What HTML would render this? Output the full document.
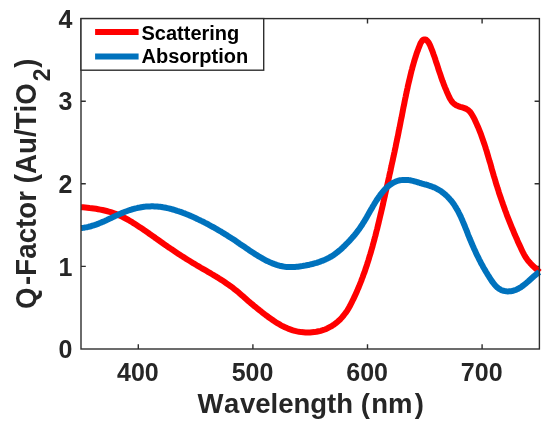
<!DOCTYPE html>
<html><head><meta charset="utf-8"><title>Q-Factor vs Wavelength</title>
<style>
html,body{margin:0;padding:0;background:#fff;}
svg{display:block;font-family:"Liberation Sans",sans-serif;font-weight:bold;font-kerning:none;}
</style></head><body>
<svg width="550" height="427" viewBox="0 0 550 427">
<rect width="550" height="427" fill="#fff"/>
<g stroke="#2e2e2e" stroke-width="1.4" fill="none">
<path d="M138.3,349 v-4.8 M138.3,18.6 v4.8"/><path d="M252.9,349 v-4.8 M252.9,18.6 v4.8"/><path d="M367.5,349 v-4.8 M367.5,18.6 v4.8"/><path d="M482.1,349 v-4.8 M482.1,18.6 v4.8"/><path d="M81,266.4 h4.8 M539.4,266.4 h-4.8"/><path d="M81,183.8 h4.8 M539.4,183.8 h-4.8"/><path d="M81,101.2 h4.8 M539.4,101.2 h-4.8"/>
</g>
<g fill="none" stroke-width="6" stroke-linejoin="round" stroke-linecap="butt">
<path stroke="#ff0000" d="M81.0,207.2 L83.1,207.3 L85.3,207.5 L87.4,207.7 L89.6,208.0 L91.7,208.2 L93.8,208.5 L96.0,208.8 L98.1,209.2 L100.3,209.6 L102.4,210.0 L104.5,210.5 L106.6,211.0 L108.7,211.6 L110.8,212.2 L112.8,212.9 L114.9,213.6 L116.9,214.4 L118.9,215.2 L120.8,216.1 L122.8,217.0 L124.7,218.0 L126.6,219.0 L128.5,220.0 L130.3,221.1 L132.2,222.2 L134.0,223.4 L135.8,224.5 L137.6,225.7 L139.4,226.9 L141.2,228.1 L143.0,229.3 L144.8,230.6 L146.6,231.8 L148.4,233.0 L150.1,234.3 L151.9,235.5 L153.7,236.7 L155.4,238.0 L157.2,239.2 L159.0,240.5 L160.7,241.7 L162.5,243.0 L164.2,244.2 L166.0,245.4 L167.8,246.7 L169.6,247.9 L171.3,249.1 L173.1,250.3 L174.9,251.5 L176.7,252.7 L178.5,253.9 L180.3,255.1 L182.1,256.2 L184.0,257.4 L185.8,258.6 L187.6,259.7 L189.4,260.8 L191.3,262.0 L193.1,263.1 L195.0,264.2 L196.8,265.3 L198.7,266.4 L200.5,267.5 L202.4,268.6 L204.3,269.7 L206.1,270.7 L208.0,271.8 L209.9,272.9 L211.7,274.0 L213.6,275.1 L215.4,276.2 L217.3,277.3 L219.1,278.5 L220.9,279.6 L222.8,280.8 L224.6,282.0 L226.3,283.2 L228.1,284.4 L229.9,285.7 L231.6,286.9 L233.3,288.2 L235.0,289.6 L236.7,290.9 L238.4,292.3 L240.0,293.7 L241.7,295.2 L243.3,296.6 L244.9,298.0 L246.6,299.5 L248.2,300.9 L249.8,302.3 L251.4,303.7 L253.1,305.0 L254.7,306.4 L256.4,307.7 L258.1,309.1 L259.7,310.4 L261.4,311.7 L263.1,313.1 L264.8,314.4 L266.6,315.7 L268.3,317.0 L270.1,318.3 L271.9,319.5 L273.7,320.8 L275.5,322.0 L277.3,323.1 L279.2,324.2 L281.1,325.3 L283.0,326.3 L284.9,327.2 L286.9,328.1 L288.8,328.9 L290.8,329.6 L292.9,330.3 L294.9,330.9 L297.0,331.4 L299.1,331.8 L301.3,332.1 L303.4,332.3 L305.6,332.5 L307.8,332.5 L310.0,332.5 L312.1,332.3 L314.3,332.1 L316.4,331.8 L318.6,331.3 L320.7,330.8 L322.7,330.2 L324.8,329.5 L326.8,328.7 L328.7,327.7 L330.6,326.7 L332.4,325.6 L334.2,324.4 L335.9,323.1 L337.6,321.7 L339.2,320.3 L340.7,318.8 L342.2,317.2 L343.6,315.5 L344.9,313.8 L346.2,312.1 L347.4,310.3 L348.5,308.4 L349.6,306.5 L350.6,304.6 L351.6,302.7 L352.5,300.8 L353.5,298.8 L354.4,296.9 L355.3,294.9 L356.2,292.9 L357.1,291.0 L357.9,289.0 L358.8,287.0 L359.6,285.0 L360.4,283.0 L361.2,281.0 L361.9,279.0 L362.7,277.0 L363.4,274.9 L364.2,272.9 L364.9,270.9 L365.6,268.8 L366.3,266.8 L367.0,264.7 L367.6,262.7 L368.3,260.6 L368.9,258.6 L369.5,256.5 L370.2,254.4 L370.8,252.4 L371.4,250.3 L372.0,248.2 L372.6,246.1 L373.1,244.1 L373.7,242.0 L374.3,239.9 L374.8,237.8 L375.4,235.7 L375.9,233.6 L376.4,231.5 L377.0,229.5 L377.5,227.4 L378.0,225.3 L378.5,223.2 L379.0,221.1 L379.5,219.0 L380.0,216.9 L380.5,214.8 L381.0,212.7 L381.5,210.6 L382.0,208.5 L382.5,206.4 L383.0,204.3 L383.4,202.2 L383.9,200.0 L384.4,197.9 L384.9,195.8 L385.3,193.7 L385.8,191.6 L386.3,189.5 L386.7,187.4 L387.2,185.3 L387.7,183.2 L388.1,181.1 L388.6,179.0 L389.1,176.9 L389.5,174.8 L390.0,172.7 L390.5,170.6 L390.9,168.4 L391.4,166.3 L391.8,164.2 L392.3,162.1 L392.8,160.0 L393.2,157.9 L393.7,155.8 L394.1,153.7 L394.6,151.6 L395.0,149.5 L395.5,147.4 L395.9,145.2 L396.3,143.1 L396.8,141.0 L397.2,138.9 L397.7,136.8 L398.1,134.7 L398.5,132.6 L398.9,130.4 L399.4,128.3 L399.8,126.2 L400.2,124.1 L400.6,122.0 L401.0,119.9 L401.5,117.7 L401.9,115.6 L402.3,113.5 L402.7,111.4 L403.1,109.3 L403.5,107.1 L404.0,105.0 L404.4,102.9 L404.8,100.8 L405.2,98.7 L405.7,96.6 L406.1,94.4 L406.6,92.3 L407.0,90.2 L407.5,88.1 L407.9,86.0 L408.4,83.9 L408.9,81.8 L409.4,79.7 L409.9,77.6 L410.4,75.5 L410.9,73.4 L411.4,71.3 L412.0,69.2 L412.5,67.1 L413.1,65.1 L413.7,63.0 L414.3,60.9 L414.9,58.9 L415.6,56.8 L416.2,54.8 L416.9,52.7 L417.7,50.7 L418.4,48.6 L419.2,46.6 L420.0,44.6 L420.9,42.6 L422.2,40.7 L423.8,39.4 L425.6,39.4 L427.3,40.8 L428.7,42.6 L429.7,44.6 L430.6,46.6 L431.4,48.6 L432.2,50.6 L432.9,52.6 L433.6,54.6 L434.4,56.6 L435.1,58.7 L435.7,60.7 L436.4,62.8 L437.1,64.8 L437.8,66.9 L438.4,69.0 L439.1,71.1 L439.8,73.1 L440.5,75.1 L441.2,77.2 L441.9,79.2 L442.6,81.2 L443.4,83.2 L444.1,85.2 L444.9,87.2 L445.8,89.2 L446.6,91.2 L447.5,93.2 L448.4,95.2 L449.3,97.2 L450.4,99.2 L451.5,101.0 L452.8,102.6 L454.4,104.1 L456.1,105.2 L458.1,106.1 L460.2,106.8 L462.3,107.4 L464.4,108.1 L466.4,108.9 L468.1,110.0 L469.7,111.4 L471.0,113.1 L472.2,115.0 L473.3,116.9 L474.3,118.8 L475.2,120.8 L476.1,122.7 L477.0,124.7 L477.9,126.7 L478.7,128.7 L479.5,130.7 L480.3,132.7 L481.1,134.7 L481.8,136.7 L482.5,138.7 L483.2,140.7 L483.9,142.8 L484.6,144.8 L485.3,146.9 L485.9,148.9 L486.6,151.0 L487.2,153.1 L487.8,155.1 L488.4,157.2 L489.0,159.3 L489.6,161.3 L490.3,163.4 L490.9,165.5 L491.4,167.6 L492.0,169.7 L492.6,171.7 L493.2,173.8 L493.8,175.9 L494.5,178.0 L495.1,180.0 L495.7,182.1 L496.3,184.2 L497.0,186.2 L497.6,188.3 L498.3,190.3 L498.9,192.4 L499.6,194.4 L500.3,196.5 L501.0,198.5 L501.7,200.6 L502.4,202.6 L503.1,204.6 L503.9,206.7 L504.6,208.7 L505.3,210.7 L506.1,212.8 L506.8,214.8 L507.6,216.8 L508.4,218.8 L509.2,220.8 L510.0,222.8 L510.8,224.8 L511.6,226.8 L512.4,228.8 L513.3,230.8 L514.1,232.8 L514.9,234.8 L515.8,236.7 L516.7,238.7 L517.5,240.7 L518.4,242.7 L519.3,244.6 L520.2,246.6 L521.1,248.6 L522.0,250.5 L523.0,252.5 L524.0,254.4 L525.0,256.2 L526.2,258.1 L527.4,259.8 L528.8,261.5 L530.2,263.1 L531.7,264.7 L533.3,266.2 L534.9,267.7 L536.5,269.2 L538.0,270.7 L539.5,272.2"/>
<path stroke="#0072bd" d="M81.0,228.0 L82.5,227.9 L83.9,227.7 L85.4,227.4 L86.8,227.2 L88.3,226.9 L89.7,226.5 L91.1,226.2 L92.5,225.7 L93.8,225.3 L95.2,224.9 L96.6,224.4 L97.9,223.9 L99.3,223.3 L100.6,222.8 L101.9,222.2 L103.3,221.7 L104.6,221.1 L105.9,220.5 L107.2,219.9 L108.5,219.2 L109.9,218.6 L111.2,218.0 L112.5,217.4 L113.8,216.7 L115.1,216.1 L116.4,215.5 L117.8,214.9 L119.1,214.3 L120.4,213.7 L121.8,213.1 L123.1,212.6 L124.4,212.0 L125.8,211.5 L127.2,211.0 L128.5,210.5 L129.9,210.0 L131.3,209.6 L132.7,209.1 L134.1,208.8 L135.6,208.4 L137.0,208.1 L138.4,207.7 L139.9,207.5 L141.3,207.2 L142.7,207.0 L144.2,206.8 L145.6,206.6 L147.1,206.5 L148.5,206.4 L150.0,206.4 L151.5,206.3 L152.9,206.3 L154.4,206.4 L155.8,206.4 L157.3,206.5 L158.7,206.7 L160.1,206.8 L161.6,207.0 L163.0,207.3 L164.4,207.5 L165.9,207.8 L167.3,208.1 L168.7,208.4 L170.1,208.7 L171.5,209.1 L172.9,209.5 L174.3,209.9 L175.7,210.3 L177.1,210.8 L178.5,211.2 L179.8,211.7 L181.2,212.2 L182.6,212.7 L183.9,213.2 L185.3,213.7 L186.6,214.2 L188.0,214.8 L189.3,215.4 L190.7,215.9 L192.0,216.5 L193.3,217.1 L194.7,217.7 L196.0,218.3 L197.3,219.0 L198.6,219.6 L199.9,220.2 L201.3,220.9 L202.6,221.5 L203.9,222.2 L205.2,222.9 L206.5,223.5 L207.8,224.2 L209.0,224.9 L210.3,225.6 L211.6,226.3 L212.9,227.0 L214.2,227.7 L215.4,228.4 L216.7,229.1 L217.9,229.9 L219.2,230.6 L220.5,231.3 L221.7,232.1 L222.9,232.8 L224.2,233.6 L225.4,234.4 L226.7,235.1 L227.9,235.9 L229.1,236.7 L230.3,237.5 L231.5,238.2 L232.8,239.0 L234.0,239.8 L235.2,240.6 L236.4,241.4 L237.6,242.2 L238.7,243.1 L239.9,243.9 L241.1,244.7 L242.3,245.5 L243.5,246.3 L244.7,247.1 L245.9,247.9 L247.1,248.8 L248.3,249.6 L249.5,250.4 L250.7,251.2 L251.9,252.0 L253.1,252.8 L254.3,253.6 L255.6,254.4 L256.8,255.1 L258.0,255.9 L259.3,256.7 L260.6,257.4 L261.9,258.1 L263.2,258.9 L264.5,259.6 L265.8,260.3 L267.1,261.0 L268.5,261.6 L269.8,262.2 L271.2,262.8 L272.6,263.4 L273.9,263.9 L275.3,264.4 L276.7,264.9 L278.1,265.3 L279.5,265.7 L280.9,266.0 L282.3,266.3 L283.7,266.6 L285.1,266.8 L286.5,266.9 L287.9,267.0 L289.4,267.1 L290.8,267.1 L292.2,267.1 L293.6,267.0 L295.1,266.9 L296.5,266.8 L297.9,266.7 L299.4,266.5 L300.8,266.3 L302.2,266.1 L303.7,265.8 L305.1,265.6 L306.5,265.3 L308.0,265.0 L309.4,264.7 L310.9,264.3 L312.3,264.0 L313.7,263.6 L315.2,263.2 L316.6,262.8 L318.0,262.3 L319.4,261.9 L320.8,261.4 L322.1,260.8 L323.5,260.3 L324.9,259.7 L326.2,259.1 L327.5,258.5 L328.8,257.9 L330.0,257.2 L331.3,256.5 L332.5,255.7 L333.7,254.9 L334.9,254.1 L336.0,253.3 L337.1,252.4 L338.3,251.5 L339.3,250.6 L340.4,249.7 L341.5,248.7 L342.6,247.7 L343.6,246.7 L344.7,245.7 L345.7,244.7 L346.7,243.6 L347.8,242.6 L348.8,241.5 L349.8,240.4 L350.8,239.3 L351.8,238.2 L352.8,237.1 L353.7,236.0 L354.7,234.9 L355.6,233.7 L356.6,232.6 L357.4,231.4 L358.3,230.2 L359.2,229.1 L360.0,227.9 L360.8,226.7 L361.6,225.5 L362.4,224.3 L363.1,223.1 L363.9,221.9 L364.6,220.7 L365.4,219.4 L366.1,218.2 L366.8,217.0 L367.5,215.7 L368.2,214.5 L368.9,213.3 L369.6,212.0 L370.3,210.8 L371.0,209.5 L371.8,208.3 L372.5,207.0 L373.2,205.8 L374.0,204.5 L374.7,203.3 L375.5,202.0 L376.3,200.7 L377.1,199.5 L378.0,198.2 L378.8,197.0 L379.7,195.8 L380.6,194.5 L381.5,193.4 L382.5,192.2 L383.4,191.0 L384.4,189.9 L385.4,188.9 L386.5,187.8 L387.6,186.8 L388.7,185.9 L389.8,185.0 L390.9,184.2 L392.1,183.4 L393.3,182.7 L394.6,182.1 L395.9,181.5 L397.2,181.0 L398.5,180.6 L399.9,180.3 L401.3,180.1 L402.7,179.9 L404.2,179.9 L405.7,179.9 L407.2,180.0 L408.6,180.1 L410.1,180.3 L411.5,180.6 L413.0,180.9 L414.4,181.3 L415.8,181.7 L417.2,182.1 L418.6,182.5 L420.0,183.0 L421.4,183.4 L422.8,183.8 L424.2,184.2 L425.6,184.5 L427.0,184.9 L428.4,185.4 L429.8,185.8 L431.2,186.3 L432.5,186.8 L433.9,187.3 L435.2,187.9 L436.5,188.6 L437.8,189.3 L439.0,190.0 L440.3,190.8 L441.5,191.6 L442.7,192.5 L443.8,193.4 L444.9,194.3 L446.0,195.3 L447.1,196.2 L448.1,197.3 L449.1,198.3 L450.0,199.4 L451.0,200.5 L451.9,201.6 L452.7,202.7 L453.6,203.9 L454.4,205.1 L455.1,206.3 L455.9,207.5 L456.6,208.8 L457.4,210.0 L458.1,211.3 L458.7,212.6 L459.4,213.9 L460.0,215.2 L460.7,216.5 L461.3,217.9 L461.9,219.2 L462.5,220.6 L463.0,221.9 L463.6,223.3 L464.2,224.7 L464.7,226.0 L465.3,227.4 L465.8,228.8 L466.4,230.1 L466.9,231.5 L467.5,232.9 L468.0,234.3 L468.5,235.6 L469.1,237.0 L469.6,238.3 L470.2,239.7 L470.7,241.0 L471.3,242.3 L471.9,243.7 L472.4,245.0 L473.0,246.3 L473.6,247.6 L474.2,249.0 L474.8,250.3 L475.4,251.6 L476.0,252.9 L476.6,254.2 L477.2,255.5 L477.9,256.7 L478.5,258.0 L479.1,259.3 L479.8,260.6 L480.5,261.9 L481.1,263.2 L481.8,264.4 L482.5,265.7 L483.2,267.0 L483.9,268.2 L484.7,269.5 L485.4,270.8 L486.1,272.0 L486.9,273.3 L487.7,274.6 L488.5,275.8 L489.3,277.1 L490.1,278.4 L490.9,279.6 L491.7,280.9 L492.6,282.1 L493.5,283.3 L494.4,284.5 L495.4,285.6 L496.4,286.6 L497.4,287.6 L498.6,288.4 L499.7,289.2 L501.0,289.9 L502.2,290.4 L503.6,290.8 L505.0,291.1 L506.4,291.3 L507.8,291.4 L509.3,291.3 L510.7,291.2 L512.1,291.0 L513.5,290.6 L514.9,290.2 L516.2,289.7 L517.6,289.1 L518.8,288.4 L520.1,287.7 L521.3,286.9 L522.5,286.0 L523.7,285.1 L524.9,284.2 L526.1,283.2 L527.2,282.3 L528.4,281.3 L529.5,280.3 L530.6,279.3 L531.7,278.3 L532.8,277.3 L533.9,276.3 L535.0,275.4 L536.1,274.5 L537.2,273.6 L538.4,272.8 L539.5,272.1"/>
</g>
<rect x="81" y="18.6" width="458.4" height="330.4" stroke="#2e2e2e" stroke-width="1.4" fill="none"/>
<g fill="#262626" font-size="25" text-anchor="middle"><text x="137.9" y="380.7">400</text><text x="252.5" y="380.7">500</text><text x="367.1" y="380.7">600</text><text x="481.7" y="380.7">700</text></g>
<g fill="#262626" font-size="25" text-anchor="end"><text x="72.3" y="358.1">0</text><text x="72.3" y="275.5">1</text><text x="72.3" y="192.9">2</text><text x="72.3" y="110.3">3</text><text x="72.3" y="27.7">4</text></g>
<text x="197.4" y="413.4" fill="#262626" font-size="27.5">W<tspan dx="0.6">a</tspan><tspan dx="0.7">v</tspan>elength (<tspan dx="1.3">nm</tspan><tspan dx="2.4">)</tspan></text>
<text transform="translate(35.5,309) rotate(-90) scale(1,1.04)" fill="#262626" font-size="27.5">Q<tspan x="24.1" letter-spacing="0.11">-Factor (Au/TiO</tspan><tspan font-size="23" x="227.8" dy="13.5">2</tspan><tspan x="241.3" dy="-13.5">)</tspan></text>
<rect x="81" y="18.6" width="182.7" height="51.6" fill="#fff" stroke="#2e2e2e" stroke-width="1.4"/>
<path d="M95.1,32.1 H138.6" stroke="#ff0000" stroke-width="6" fill="none"/>
<path d="M95.1,56.5 H138.6" stroke="#0072bd" stroke-width="6" fill="none"/>
<text x="141.5" y="39.6" fill="#000" font-size="20">Scattering</text>
<text x="141.5" y="63" fill="#000" font-size="20">Absorption</text>
</svg>
</body></html>
